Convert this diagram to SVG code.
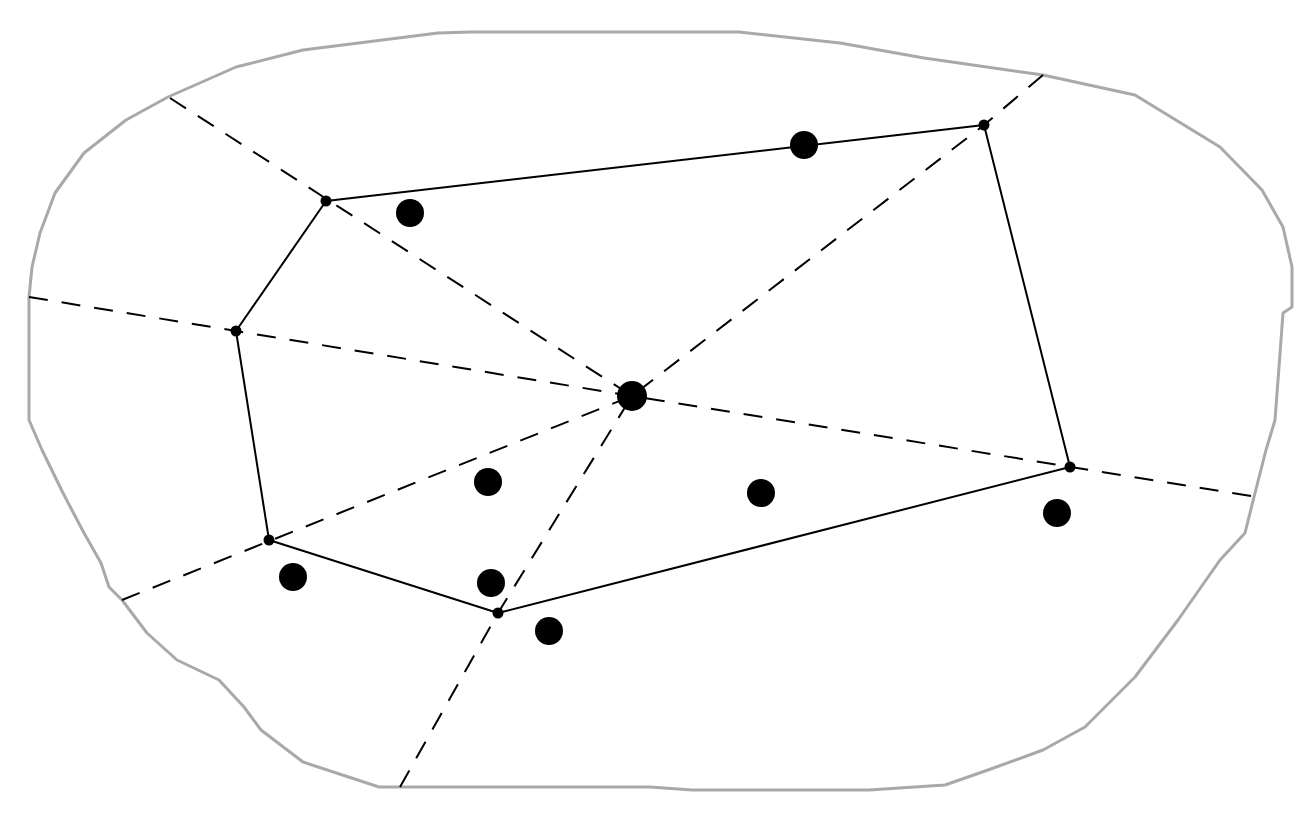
<svg xmlns="http://www.w3.org/2000/svg" width="1312" height="816" viewBox="0 0 1312 816">
  <style>
    .boundary { fill: none; stroke: #a9a9a9; stroke-width: 3; stroke-linejoin: round; }
    .edge { fill: none; stroke: #000; stroke-width: 2; stroke-linejoin: round; }
    .dash { fill: none; stroke: #000; stroke-width: 2; stroke-dasharray: 19 14; }
    .site { fill: #000; }
    .vertex { fill: #000; }
  </style>
  <rect width="1312" height="816" fill="#fff"/>
  <g id="boundary">
    <path class="boundary" d="M471,32 L739,32 L840,43 L924,58 L1043,75 L1135,95 L1220,147 L1262,190 L1283,227 L1292,267 L1292,307 L1283,313 L1279,367 L1275,420 L1266,450 L1254,497 L1245,533 L1220,560 L1178,620 L1135,677 L1085,727 L1043,750 L988,770 L945,785 L869,790 L692,790 L650,787 L379,787 L303,762 L261,730 L244,707 L219,680 L177,660 L147,633 L122,600 L109,587 L101,563 L84,533 L63,493 L42,450 L29,420 L29,297 L32,267 L40,233 L55,193 L84,153 L126,120 L168,97 L236,67 L303,50 L438,33 Z"/>
  </g>
  <g id="connectors">
    <g id="edges">
      <polygon class="edge" points="326,201 984,125 1070,467 498,613 269,540 236,331"/>
    </g>
    <g id="dashed">
      <path class="dash" d="M170,98 L632,396"/>
      <path class="dash" d="M29,297 L632,396"/>
      <path class="dash" d="M1043,75 L984,125 L632,396"/>
      <path class="dash" d="M1251,496 L632,396"/>
      <path class="dash" d="M122,600 L632,396"/>
      <path class="dash" d="M400,787 L498,613 L632,396"/>
    </g>
  </g>
  <g id="vertex-A"><circle class="vertex" cx="326" cy="201" r="5.5"/></g>
  <g id="vertex-B"><circle class="vertex" cx="984" cy="125" r="5.5"/></g>
  <g id="vertex-C"><circle class="vertex" cx="1070" cy="467" r="5.5"/></g>
  <g id="vertex-D"><circle class="vertex" cx="498" cy="613" r="5.5"/></g>
  <g id="vertex-E"><circle class="vertex" cx="269" cy="540" r="5.5"/></g>
  <g id="vertex-F"><circle class="vertex" cx="236" cy="331" r="5.5"/></g>
  <g id="site-center"><circle class="site" cx="632" cy="396" r="15"/></g>
  <g id="site-1"><circle class="site" cx="410" cy="213" r="14"/></g>
  <g id="site-2"><circle class="site" cx="804" cy="145" r="14"/></g>
  <g id="site-3"><circle class="site" cx="488" cy="482" r="14"/></g>
  <g id="site-4"><circle class="site" cx="761" cy="493" r="14"/></g>
  <g id="site-5"><circle class="site" cx="1057" cy="513" r="14"/></g>
  <g id="site-6"><circle class="site" cx="293" cy="577" r="14"/></g>
  <g id="site-7"><circle class="site" cx="491" cy="583" r="14"/></g>
  <g id="site-8"><circle class="site" cx="549" cy="631" r="14"/></g>
</svg>
